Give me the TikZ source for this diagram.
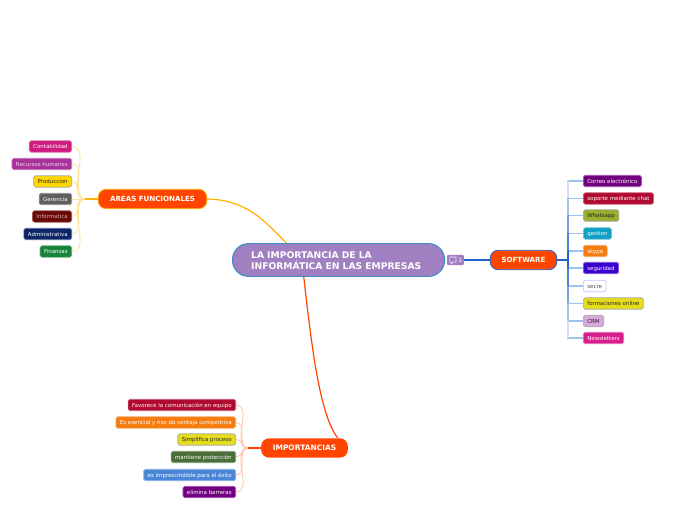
\documentclass[tikz,border=0pt]{standalone}
\usepackage{fontspec}
\setmainfont{DejaVu Sans}
\usetikzlibrary{positioning}

\definecolor{naranja}{HTML}{FF4500}
\definecolor{ambar}{HTML}{FFB000}
\definecolor{lila}{HTML}{A080C0}
\definecolor{azul}{HTML}{3C8BCB}
\definecolor{rey}{HTML}{1E62CC}
\definecolor{magenta}{HTML}{CF1A80}
\definecolor{morado}{HTML}{A83299}
\definecolor{oro}{HTML}{FFD700}
\definecolor{gris}{HTML}{5F5F5F}
\definecolor{granate}{HTML}{6B0808}
\definecolor{marino}{HTML}{0B2566}
\definecolor{verde}{HTML}{15833A}
\definecolor{violeta}{HTML}{700080}
\definecolor{carmin}{HTML}{B00A30}
\definecolor{oliva}{HTML}{9AAE2F}
\definecolor{cian}{HTML}{12A0C4}
\definecolor{mandarina}{HTML}{F57C10}
\definecolor{anil}{HTML}{3A00D0}
\definecolor{limon}{HTML}{E6DC1E}
\definecolor{malva}{HTML}{D8A8DC}
\definecolor{fucsia}{HTML}{D81E8C}
\definecolor{musgo}{HTML}{4A6E38}
\definecolor{celeste}{HTML}{4A86D8}
\definecolor{hilosa}{HTML}{FFE29A}
\definecolor{hilosi}{HTML}{FFC3AE}
\definecolor{hilosb}{HTML}{9CC3F0}

\tikzset{
	hoja/.style={rectangle, rounded corners=1.3pt, fill=#1, draw=#1!65!white, line width=0.5pt,
		text=white, font=\fontsize{4.1}{4.9}\selectfont, minimum height=8.6pt, inner xsep=3pt, inner ysep=0pt,
		text height=3.5pt, text depth=0.4pt},
	hojaclara/.style={hoja=#1, draw=black!35, text=black!85},
	rama/.style={rectangle, rounded corners=6pt, fill=naranja, line width=0.6pt, text=white,
		font=\fontsize{5.3}{6}\selectfont\bfseries, minimum height=14.6pt, inner ysep=0pt,
		text height=4.4pt, text depth=0.4pt},
	hiloareas/.style={draw=hilosa, line width=0.65pt},
	hilosoft/.style={color=hilosb, line width=0.8pt},
	hiloimp/.style={draw=hilosi, line width=0.65pt}
}

\begin{document}
\begin{tikzpicture}[x=0.75pt,y=-0.75pt]
	\useasboundingbox (0,0) rectangle (697,520);

	% Central topic
	\node (central) at (338.5,260) [rectangle, rounded corners=12pt, fill=lila, draw=azul, line width=0.8pt,
		minimum width=159pt, minimum height=24.6pt, inner sep=0pt, text width=131pt, align=left, text=white,
		font=\fontsize{6.9}{8.25}\selectfont\bfseries] {\rule{0pt}{6.4pt}LA IMPORTANCIA DE LA\\INFORMÁTICA EN LAS EMPRESAS};
	% Comment badge
	\node (nota) at (455.5,260) [rectangle, rounded corners=0.8pt, fill=lila, minimum width=12.6pt, minimum height=7.6pt,
		inner sep=0pt, text=white, font=\fontsize{4.5}{5}\selectfont] {\hspace{7pt}1};
	\draw[white!85!lila, line width=0.4pt, line join=round] (449.8,257) -- (456,257) -- (456,262) -- (453,262) -- (451.2,264) -- (451.2,262) -- (449.8,262) -- cycle;

	% Main branches
	\node (areas) at (152.5,199) [rama, draw=ambar, minimum width=81.5pt] {AREAS FUNCIONALES};
	\node (software) at (523.5,260) [rama, draw=rey, minimum width=50pt] {SOFTWARE};
	\node (importancias) at (304.5,448) [rama, minimum width=65pt, font=\fontsize{5.6}{6}\selectfont\bfseries] {IMPORTANCIAS};

	% Left leaves
	\node (contabilidad) at (72,146.5) [anchor=east, hoja=magenta] {Contabilidad};
	\node (recursos) at (72,164) [anchor=east, hoja=morado, text=white!80!morado] {Recursos humanos};
	\node (produccion) at (72,181.5) [anchor=east, hojaclara=oro] {Produccion};
	\node (gerencia) at (72,199) [anchor=east, hoja=gris] {Gerencia};
	\node (informatica) at (72,216.5) [anchor=east, hoja=granate, text=white!70!granate] {Informatica};
	\node (administrativa) at (72,234) [anchor=east, hoja=marino] {Administrativa};
	\node (finanzas) at (72,251.5) [anchor=east, hoja=verde] {Finanzas};

	% Right leaves
	\node (correo) at (583,181) [anchor=west, hoja=violeta] {Correo electrónico};
	\node (soporte) at (583,198.5) [anchor=west, hoja=carmin] {soporte mediante chat};
	\node (whatsapp) at (583,215.5) [anchor=west, hojaclara=oliva] {Whatsapp};
	\node (gestion) at (583,233.5) [anchor=west, hoja=cian] {gestion};
	\node (skype) at (583,251) [anchor=west, hoja=mandarina] {skype};
	\node (seguridad) at (583,268) [anchor=west, hoja=anil] {seguridad};
	\node (secre) at (583,286) [anchor=west, hoja=white, draw=blue!25, text=black!70] {secre};
	\node (formaciones) at (583,303.5) [anchor=west, hojaclara=limon] {formaciones online};
	\node (crm) at (583,321) [anchor=west, hojaclara=malva] {CRM};
	\node (newsletters) at (583,338) [anchor=west, hoja=fucsia] {Newsletters};

	% Bottom leaves
	\node (favorece) at (236,405) [anchor=east, hoja=carmin] {Favorece la comunicación en equipo};
	\node (esencial) at (236,422.5) [anchor=east, hoja=mandarina] {Es esencial y nos da ventaja competitiva};
	\node (simplifica) at (236,439.5) [anchor=east, hojaclara=limon] {Simplifica proceso};
	\node (mantiene) at (236,457) [anchor=east, hoja=musgo] {mantiene protección};
	\node (imprescindible) at (236,475) [anchor=east, hoja=celeste] {es imprescindible para el éxito};
	\node (elimina) at (236,492) [anchor=east, hoja=violeta] {elimina barreras};

	% Connectors from the central topic
	\draw[color=ambar, line width=0.9pt] (areas.east) .. controls (245,200) and (262,218) .. (central.162);
	\draw[color=naranja, line width=0.9pt] (central.206) .. controls (312,350) and (320,415) .. (importancias.17);
	\draw[color=rey, line width=1.4pt] (nota.east) -- (software.west);

	% Areas funcionales
	\coordinate (hubareas) at (85,199);
	\draw[hiloareas] (hubareas) to[out=180, in=0] (contabilidad.east);
	\draw[hiloareas] (hubareas) to[out=180, in=0] (recursos.east);
	\draw[hiloareas] (hubareas) to[out=180, in=0] (produccion.east);
	\draw[hiloareas] (hubareas) -- (gerencia.east);
	\draw[hiloareas] (hubareas) to[out=180, in=0] (informatica.east);
	\draw[hiloareas] (hubareas) to[out=180, in=0] (administrativa.east);
	\draw[hiloareas] (hubareas) to[out=180, in=0] (finanzas.east);
	\draw[color=ambar, line width=0.9pt] (areas.west) -- (hubareas);

	% Software: pale wires, then the trunk gets darker towards the middle
	\coordinate (hubsoft) at (568,260);
	\draw[hilosoft] (hubsoft) |- (correo.west);
	\draw[hilosoft] (hubsoft) |- (soporte.west);
	\draw[hilosoft] (hubsoft) |- (whatsapp.west);
	\draw[hilosoft] (hubsoft) |- (gestion.west);
	\draw[hilosoft] (hubsoft) |- (skype.west);
	\draw[hilosoft] (hubsoft) |- (seguridad.west);
	\draw[hilosoft] (hubsoft) |- (secre.west);
	\draw[hilosoft] (hubsoft) |- (formaciones.west);
	\draw[hilosoft] (hubsoft) |- (crm.west);
	\draw[hilosoft] (hubsoft) |- (newsletters.west);
	\draw[color=rey!20!white, line width=1pt] (hubsoft |- correo.west) -- (hubsoft |- newsletters.west);
	\draw[color=rey!40!white, line width=1pt] (hubsoft |- soporte.west) -- (hubsoft |- crm.west);
	\draw[color=rey!60!white, line width=1pt] (hubsoft |- whatsapp.west) -- (hubsoft |- formaciones.west);
	\draw[color=rey!80!white, line width=1pt] (hubsoft |- gestion.west) -- (hubsoft |- secre.west);
	\draw[color=rey, line width=1pt] (hubsoft |- skype.west) -- (hubsoft |- seguridad.west);
	\draw[color=rey, line width=1.4pt] (software.east) -- (hubsoft);

	% Importancias
	\coordinate (hubimp) at (248,448);
	\draw[hiloimp] (hubimp) to[out=180, in=0] (favorece.east);
	\draw[hiloimp] (hubimp) to[out=180, in=0] (esencial.east);
	\draw[hiloimp] (hubimp) to[out=180, in=0] (simplifica.east);
	\draw[hiloimp] (hubimp) to[out=180, in=0] (mantiene.east);
	\draw[hiloimp] (hubimp) to[out=180, in=0] (imprescindible.east);
	\draw[hiloimp] (hubimp) to[out=180, in=0] (elimina.east);
	\draw[color=naranja, line width=0.9pt] (importancias.west) -- (hubimp);
\end{tikzpicture}
\end{document}
